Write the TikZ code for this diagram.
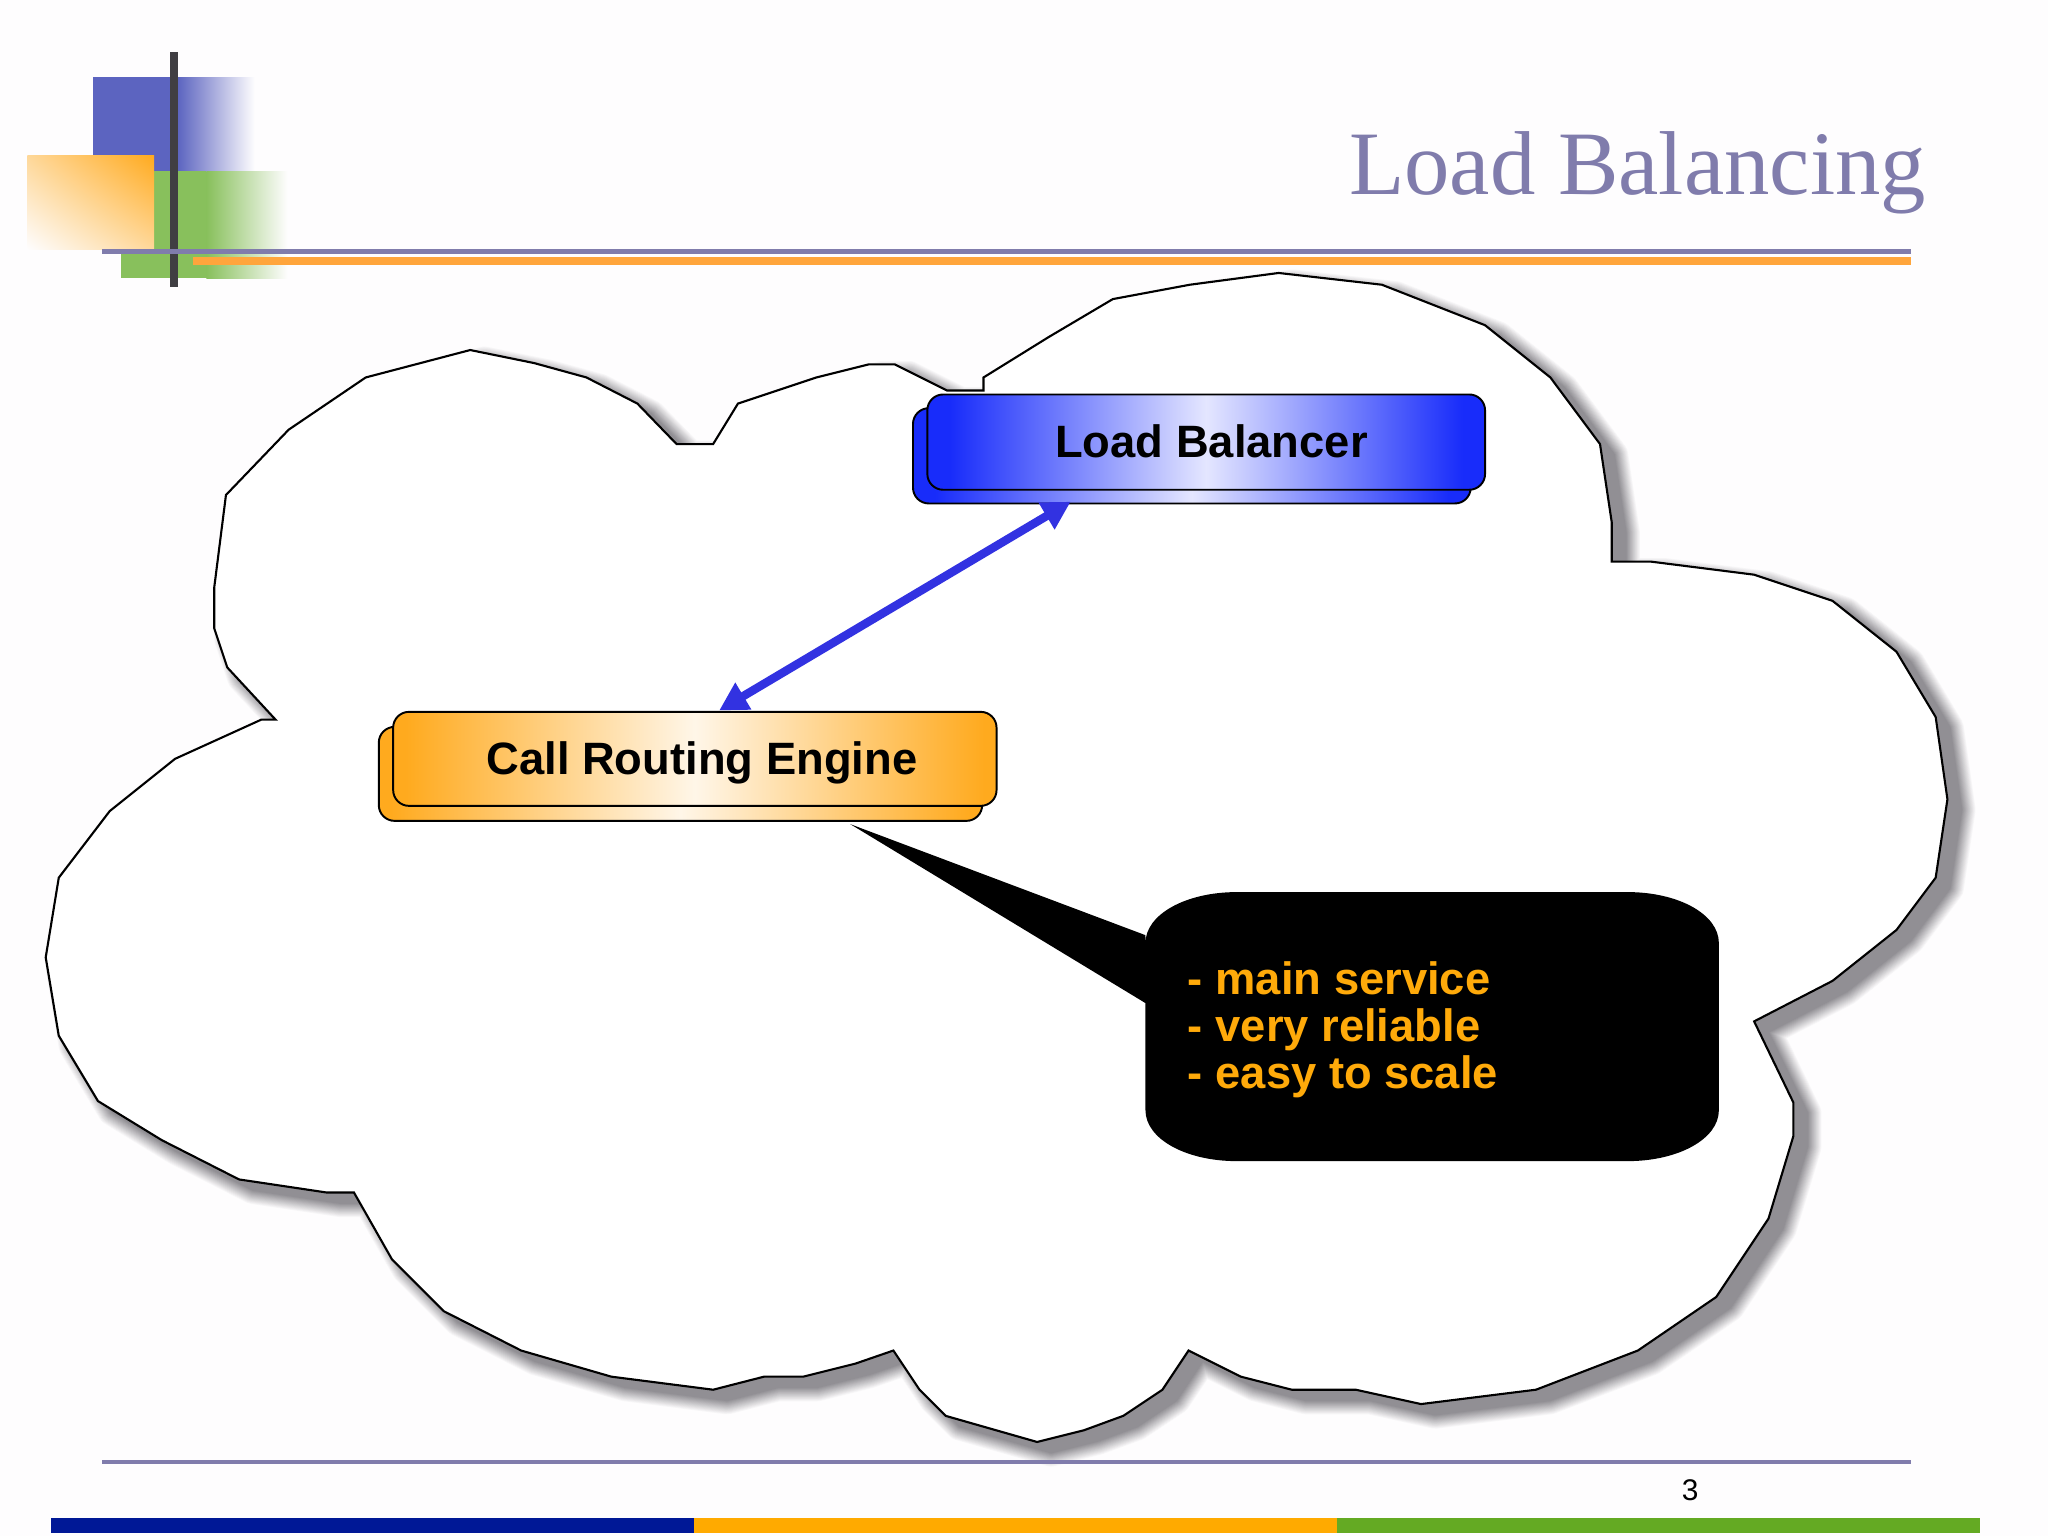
\documentclass[tikz,border=0pt]{standalone}
\usepackage{fontspec}
\setmainfont{Liberation Sans}
\newfontfamily\titlefont{Liberation Serif}
\usetikzlibrary{arrows.meta,shadings}
\definecolor{pagewhite}{RGB}{254,253,254}
\definecolor{logoblue}{RGB}{92,100,192}
\definecolor{logogreen}{RGB}{136,192,92}
\definecolor{logoorange}{RGB}{255,170,30}
\definecolor{logobar}{RGB}{64,62,66}
\definecolor{rulepurple}{RGB}{128,124,172}
\definecolor{ruleorange}{RGB}{255,165,60}
\definecolor{boxblue}{RGB}{24,44,250}
\definecolor{boxpale}{RGB}{228,230,255}
\definecolor{boxorange}{RGB}{255,170,30}
\definecolor{boxcream}{RGB}{255,246,232}
\definecolor{arrowblue}{RGB}{50,50,225}
\definecolor{noteorange}{RGB}{255,170,10}
\definecolor{barnavy}{RGB}{0,24,150}
\definecolor{barorange}{RGB}{255,170,0}
\definecolor{bargreen}{RGB}{100,170,35}
\definecolor{shadowgray}{RGB}{145,143,148}
\pgfdeclarehorizontalshading{bluefade}{100bp}{color(0bp)=(boxblue); color(27bp)=(boxblue); color(50bp)=(boxpale); color(73bp)=(boxblue); color(100bp)=(boxblue)}
\pgfdeclarehorizontalshading{orangefade}{100bp}{color(0bp)=(boxorange); color(26bp)=(boxorange); color(50bp)=(boxcream); color(74bp)=(boxorange); color(100bp)=(boxorange)}
\newcommand{\cloudpath}{(753,289) -- (803,258) -- (852,229) -- (911,218) -- (979,209) -- (1058,218) -- (1137,249) -- (1187,289) -- (1225,340) -- (1234,400) -- (1234,430) -- (1264,430) -- (1343,440) -- (1403,460) -- (1452,499) -- (1482,549) -- (1491,612) -- (1482,672) -- (1452,712) -- (1403,751) -- (1343,782) -- (1373,844) -- (1373,870) -- (1354,933) -- (1314,993) -- (1254,1034) -- (1176,1064) -- (1088,1075) -- (1038,1064) -- (989,1064) -- (950,1054) -- (910,1034) -- (890,1064) -- (860,1084) -- (830,1095) -- (794,1104) -- (724,1084) -- (704,1064) -- (684,1034) -- (655,1044) -- (615,1054) -- (585,1054) -- (546,1064) -- (468,1054) -- (399,1034) -- (340,1004) -- (300,964) -- (271,913) -- (250,913) -- (183,903) -- (124,873) -- (75,843) -- (45,793) -- (35,733) -- (45,672) -- (84,621) -- (134,581) -- (200,551) -- (211,551) -- (174,511) -- (164,481) -- (164,450) -- (173,379) -- (221,329) -- (280,289) -- (360,268) -- (409,278) -- (449,289) -- (488,309) -- (518,340) -- (546,340) -- (565,309) -- (625,289) -- (665,279) -- (685,279) -- (725,299) -- (753,299) -- cycle}
\begin{document}
\begin{tikzpicture}[x=0.0130612cm,y=-0.0130612cm]
	\tikzset{box/.style = {shape=rectangle,draw,rounded corners=4.5pt,line width=0.55pt,inner sep=0pt,outer sep=0pt,text height=11pt,text depth=2.2pt,font=\fontsize{12.9}{15}\selectfont\bfseries}}
	\tikzset{bluebox/.style = {box,shade,shading=bluefade,minimum width=5.577cm,minimum height=0.953cm}}
	\tikzset{orangebox/.style = {box,shade,shading=orangefade,minimum width=6.034cm,minimum height=0.94cm}}
	\tikzset{edge/.style = {{Triangle[length=8pt,width=8.4pt]}-{Triangle[length=8pt,width=8.4pt]},arrowblue,line width=2.4pt,shorten >=0.8pt,shorten <=-1pt}}
	\useasboundingbox (0,0) rectangle (1568,1176);
	\fill[pagewhite] (0,0) rectangle (1568,1176);
	% logo
	\fill[logoblue] (71,59) rectangle (136,131);
	\shade[left color=logoblue,right color=pagewhite] (136,59) rectangle (195,131);
	\fill[logogreen] (93,131) rectangle (158,213);
	\shade[left color=logogreen,right color=pagewhite] (158,131) rectangle (220,213);
	\shade[lower left=pagewhite,upper right=logoorange,upper left=logoorange!45!pagewhite,lower right=logoorange!45!pagewhite] (21,119) rectangle (118,191);
	\fill[logobar] (130,40) rectangle (136,220);
	% rules
	\fill[rulepurple] (78,191) rectangle (1463,194.5);
	\fill[ruleorange] (148,197) rectangle (1463,203);
	\node[text=rulepurple,font=\titlefont\fontsize{25.8}{30}\selectfont,anchor=base east,inner sep=0pt] (title) at (1475,149) {Load Balancing};
	% cloud shadow
	\foreach \i [evaluate=\i as \w using (17-\i)*0.5, evaluate=\i as \p using \i*100/16] in {1,...,16}{
		\draw[draw=shadowgray!\p!pagewhite,fill=shadowgray!\p!pagewhite,line width=\w pt,line join=round,xshift=4pt,yshift=-3pt] \cloudpath;
	}
	\fill[rulepurple] (78,1117.5) rectangle (1463,1120.5);
	% cloud
	\draw[fill=white,line width=0.6pt] \cloudpath;
	% boxes
	\node[bluebox] (lbback) at (912.5,349) {};
	\node[bluebox] (lb) at (923.5,338.5) {\hspace*{3pt}Load Balancer};
	\node[orangebox] (creback) at (521,592.5) {};
	\node[orangebox] (cre) at (532,581) {\hspace*{4pt}Call Routing Engine};
	% edge
	\draw[edge] (lbback.201) to (cre.65);
	% note
	\fill[black] (877,716) -- (651,631) -- (877,768) -- (877,850) .. controls (877,872) and (908,889) .. (947,889) -- (1246,889) .. controls (1285,889) and (1316,872) .. (1316,850) -- (1316,722) .. controls (1316,700) and (1285,683) .. (1246,683) -- (947,683) .. controls (908,683) and (877,700) .. (877,722) -- cycle;
	\node[text=noteorange,align=left,anchor=west,inner sep=0pt,font=\fontsize{12.9}{13.4}\selectfont\bfseries] (note) at (909,788.5) {- main service\\- very reliable\\- easy to scale};
	% footer
	\node[font=\fontsize{8.5}{10}\selectfont,inner sep=0pt] (page) at (1294,1141) {3};
	\fill[barnavy] (39,1162) rectangle (531,1174);
	\fill[barorange] (531,1162) rectangle (1024,1174);
	\fill[bargreen] (1024,1162) rectangle (1516,1174);
\end{tikzpicture}
\end{document}
